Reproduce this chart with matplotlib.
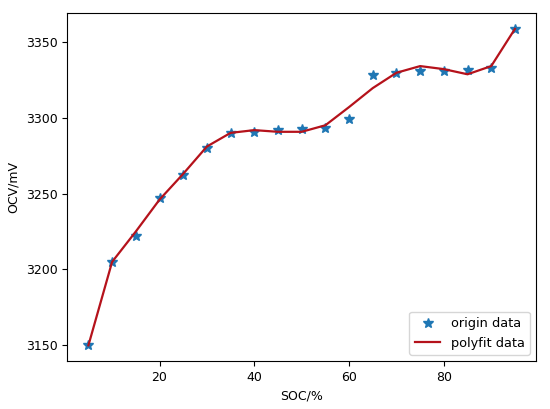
import matplotlib
matplotlib.use("Agg")
import matplotlib.pyplot as plt

# SOC points (%) and measured open-circuit voltage (mV)
soc = [5, 10, 15, 20, 25, 30, 35, 40, 45, 50, 55, 60, 65, 70, 75, 80, 85, 90, 95]
ocv_origin = [3150, 3205, 3222, 3247, 3262, 3280, 3290, 3290.5, 3292, 3292.5, 3293,
              3299, 3328, 3329.5, 3330.5, 3331, 3331.5, 3332.5, 3358.5]
# fitted curve evaluated at the same SOC points
ocv_fit = [3150, 3205, 3225, 3246, 3263, 3281, 3290, 3291.8, 3290.7, 3290.7, 3295,
           3307, 3319.5, 3329.6, 3334, 3332, 3328.6, 3334, 3358.5]

fig = plt.figure(figsize=(5.5, 4.09), dpi=100)
ax = fig.add_axes([0.122, 0.117, 0.853, 0.851])

ax.plot(soc, ocv_origin, '*', color='#1f77b4', markersize=7, label='origin data')
ax.plot(soc, ocv_fit, '-', color='#b5121b', linewidth=1.6, label='polyfit data')

ax.set_xticks([20, 40, 60, 80])
ax.set_yticks([3150, 3200, 3250, 3300, 3350])
ax.tick_params(labelsize=9)
ax.set_xlabel("SOC/%", fontsize=9)
ax.set_ylabel("OCV/mV", fontsize=9)
ax.legend(loc='lower right', fontsize=9.3)

plt.savefig("out.png", dpi=100)
